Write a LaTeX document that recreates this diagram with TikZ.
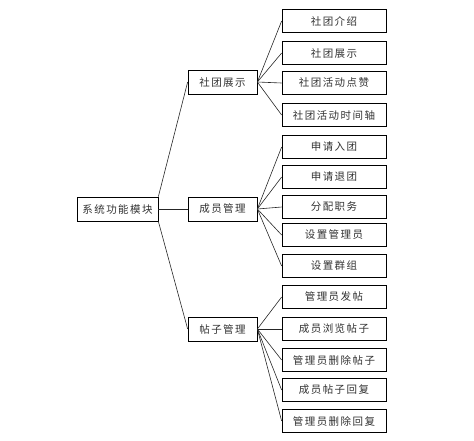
\documentclass[tikz,border=0pt]{standalone}
\usepackage{fontspec}
\newfontfamily\cjk[LetterSpace=14]{Noto Sans CJK SC}
\usetikzlibrary{shadows}

\begin{document}
\begin{tikzpicture}[x=1pt, y=-1pt,
  box/.style={draw=black, line width=0.7pt, fill=white, inner sep=0pt,
    text=black!80, font=\cjk\fontsize{10.5}{12}\selectfont,
    drop shadow={shadow xshift=0.7pt, shadow yshift=-0.7pt, fill=black, opacity=1}},
  rootbox/.style={box, minimum width=81pt, minimum height=24pt},
  groupbox/.style={box, minimum width=69pt, minimum height=24pt},
  leafbox/.style={box, minimum width=104pt, minimum height=23pt},
  link/.style={draw=black!85, line width=0.6pt}]
\def\GroupX{222.5}
\def\LeafX{334}

\useasboundingbox (0,0) rectangle (474,440);

% root and groups
\node[rootbox] (sys) at (117.5,209) {系统功能模块};
\node[groupbox] (show) at (\GroupX,82) {社团展示};
\node[groupbox] (member) at (\GroupX,209) {成员管理};
\node[groupbox] (post) at (\GroupX,329) {帖子管理};

\draw[link] (sys.north east) -- (show.west);
\draw[link] (sys.east) -- (member.west);
\draw[link] (sys.south east) -- (post.west);

% leaves
\foreach \y/\name/\txt in {21/s1/社团介绍, 53/s2/社团展示, 83/s3/社团活动点赞, 115/s4/社团活动时间轴}{
  \node[leafbox] (\name) at (\LeafX,\y) {\txt};
  \draw[link] (show.east) -- (\name.west);
}
\foreach \y/\name/\txt in {147/m1/申请入团, 177/m2/申请退团, 207/m3/分配职务, 235/m4/设置管理员, 266/m5/设置群组}{
  \node[leafbox] (\name) at (\LeafX,\y) {\txt};
  \draw[link] (member.east) -- (\name.west);
}
\foreach \y/\name/\txt in {297/p1/管理员发帖, 329/p2/成员浏览帖子, 360/p3/管理员删除帖子, 390/p4/成员帖子回复, 421/p5/管理员删除回复}{
  \node[leafbox] (\name) at (\LeafX,\y) {\txt};
  \draw[link] (post.east) -- (\name.west);
}
\end{tikzpicture}
\end{document}
